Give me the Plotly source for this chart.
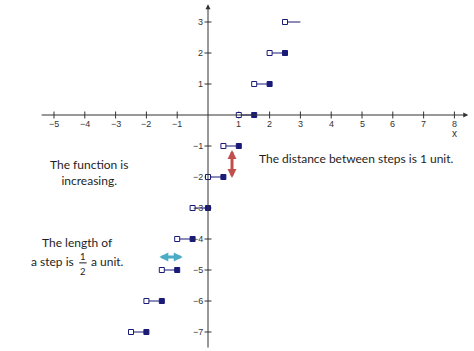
import plotly.graph_objects as go

# Step function data (open left end, closed right end)
step_y = [-7, -6, -5, -4, -3, -2, -1, 0, 1, 2, 3]
open_x = [-2.5, -2.0, -1.5, -1.0, -0.5, 0.0, 0.5, 1.0, 1.5, 2.0, 2.5]
closed_x = [-2.0, -1.5, -1.0, -0.5, 0.0, 0.5, 1.0, 1.5, 2.0, 2.5, 3.0]
closed_shown = [True, True, True, True, True, True, True, True, True, True, False]

x_ticks = [-5, -4, -3, -2, -1, 1, 2, 3, 4, 5, 6, 7, 8]
y_ticks = [-7, -6, -5, -4, -3, -2, -1, 1, 2, 3]

LINE = "#1a1a78"
AX = "#333333"
TXT = "#1e1e1e"
FONT = "Lato"

fig = go.Figure()

# axis lines with arrows
anns = []
anns.append(dict(x=8.45, y=0, ax=-5.45, ay=0, xref="x", yref="y", axref="x", ayref="y",
                 text="", showarrow=True, arrowhead=2, arrowsize=1, arrowwidth=1, arrowcolor=AX))
anns.append(dict(x=0, y=3.57, ax=0, ay=-7.55, xref="x", yref="y", axref="x", ayref="y",
                 text="", showarrow=True, arrowhead=2, arrowsize=1, arrowwidth=1, arrowcolor=AX))

# tick marks
fig.add_trace(go.Scatter(x=x_ticks, y=[0] * len(x_ticks), mode="markers",
                         marker=dict(symbol="line-ns", size=5, line=dict(color=AX, width=1)),
                         hoverinfo="skip", showlegend=False))
fig.add_trace(go.Scatter(x=[0] * len(y_ticks), y=y_ticks, mode="markers",
                         marker=dict(symbol="line-ew", size=5, line=dict(color=AX, width=1)),
                         hoverinfo="skip", showlegend=False))

def lab(v):
    return ("\u2212" + str(abs(v))) if v < 0 else str(v)

for t in x_ticks:
    anns.append(dict(x=t, y=0, xref="x", yref="y", text=lab(t), showarrow=False,
                     yshift=-9, font=dict(family="Liberation Sans", size=9, color=AX)))
for t in y_ticks:
    anns.append(dict(x=0, y=t, xref="x", yref="y", text=lab(t), showarrow=False,
                     xanchor="right", xshift=-3, font=dict(family="Liberation Sans", size=9, color=AX)))
anns.append(dict(x=8.0, y=0, xref="x", yref="y", text="x", showarrow=False, yshift=-18,
                 font=dict(family="Liberation Sans", size=10, color=AX)))

# step segments
for y, x0, x1 in zip(step_y, open_x, closed_x):
    fig.add_trace(go.Scatter(x=[x0, x1], y=[y, y], mode="lines",
                             line=dict(color=LINE, width=1), hoverinfo="skip", showlegend=False))

fig.add_trace(go.Scatter(x=open_x, y=step_y, mode="markers",
                         marker=dict(symbol="square", size=5, color="white",
                                     line=dict(color=LINE, width=1)),
                         showlegend=False))
fig.add_trace(go.Scatter(x=[x for x, s in zip(closed_x, closed_shown) if s],
                         y=[y for y, s in zip(step_y, closed_shown) if s], mode="markers",
                         marker=dict(symbol="square", size=5, color=LINE,
                                     line=dict(color=LINE, width=1)),
                         showlegend=False))

# coloured double arrows
anns.append(dict(x=0.78, y=-2.03, ax=0.78, ay=-1.08, xref="x", yref="y", axref="x", ayref="y",
                 text="", showarrow=True, arrowhead=2, startarrowhead=2, arrowside="end+start",
                 arrowsize=0.6, startarrowsize=0.6, arrowwidth=3, arrowcolor="#c0504d"))
anns.append(dict(x=-0.82, y=-4.58, ax=-1.63, ay=-4.58, xref="x", yref="y", axref="x", ayref="y",
                 text="", showarrow=True, arrowhead=2, startarrowhead=2, arrowside="end+start",
                 arrowsize=0.6, startarrowsize=0.6, arrowwidth=3, arrowcolor="#4bacc6"))

tf = dict(family=FONT, size=12, color=TXT)
anns.append(dict(x=-3.86, y=-1.85, xref="x", yref="y", text="The function is<br>increasing.",
                 showarrow=False, font=tf, align="center"))
anns.append(dict(x=4.81, y=-1.39, xref="x", yref="y", text="The distance between steps is 1 unit.",
                 showarrow=False, font=tf))
anns.append(dict(x=-4.25, y=-4.12, xref="x", yref="y", text="The length of",
                 showarrow=False, font=tf))
anns.append(dict(x=-4.27, y=-4.74, xref="x", yref="y", text="a step is",
                 showarrow=False, font=tf, xanchor="right"))
anns.append(dict(x=-4.06, y=-4.55, xref="x", yref="y", text="1",
                 showarrow=False, font=dict(family=FONT, size=9.5, color=TXT)))
anns.append(dict(x=-4.06, y=-5.06, xref="x", yref="y", text="2",
                 showarrow=False, font=dict(family=FONT, size=9.5, color=TXT)))
anns.append(dict(x=-3.85, y=-4.74, xref="x", yref="y", text="a unit.",
                 showarrow=False, font=tf, xanchor="left"))

fig.add_shape(type="line", x0=-4.18, x1=-3.94, y0=-4.77, y1=-4.77, xref="x", yref="y",
              line=dict(color=TXT, width=1))

fig.update_layout(
    width=474, height=351, margin=dict(l=0, r=0, t=0, b=0),
    paper_bgcolor="white", plot_bgcolor="white",
    xaxis=dict(range=[-6.753, 8.636], visible=False, fixedrange=True),
    yaxis=dict(range=[-7.613, 3.71], visible=False, fixedrange=True),
    annotations=anns, showlegend=False,
)

fig.write_html("out.html")
